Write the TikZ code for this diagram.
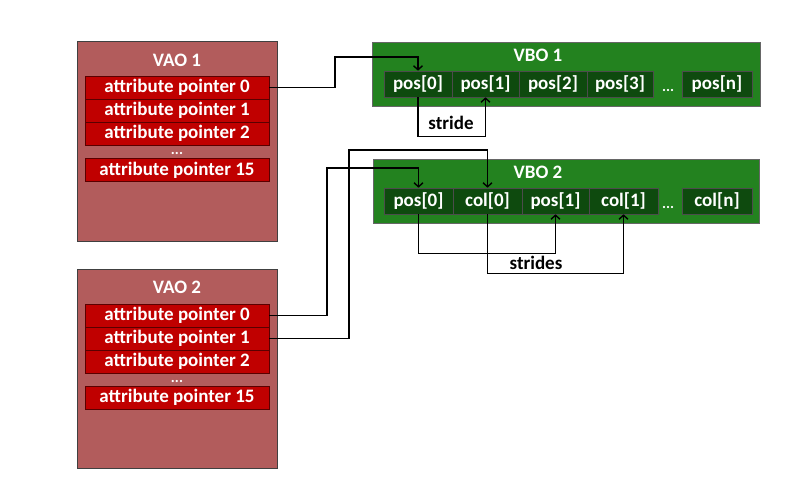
\documentclass[tikz,border=0pt]{standalone}
\usepackage{fontspec}
\setmainfont{Carlito}
\usetikzlibrary{arrows.meta}
\definecolor{vaofill}{HTML}{B25C5C}
\definecolor{attrred}{HTML}{C00000}
\definecolor{attrline}{HTML}{5A0000}
\definecolor{vbofill}{HTML}{23821F}
\definecolor{cellfill}{HTML}{0E4A0E}
\begin{document}
\begin{tikzpicture}[x=1pt,y=-1pt,
  txt/.style={font=\fontsize{19}{19}\selectfont\bfseries, inner sep=0pt},
  vaobox/.style={draw=black!75, fill=vaofill, line width=0.8pt, anchor=north west, minimum width=200pt, inner sep=0pt},
  attr/.style={txt, draw=attrline, fill=attrred, text=white, line width=0.8pt, minimum width=184pt, minimum height=23pt},
  vbobox/.style={draw=black!60, fill=vbofill, line width=0.8pt, anchor=north west, minimum height=64pt, inner sep=0pt},
  cell/.style={txt, draw=black!70, fill=cellfill, text=white, line width=0.6pt, minimum height=26pt},
  wtitle/.style={txt, text=white},
  dots/.style={font=\fontsize{15}{15}\selectfont\bfseries, text=white, inner sep=0pt},
  conn/.style={draw=black, line width=1.6pt, -{Straight Barb[length=4pt,width=9pt,line width=1.4pt]}}
]
\useasboundingbox (0,0) rectangle (805,500);
\fill[white] (0,0) rectangle (805,500);

% VAO 1
\node[vaobox, minimum height=200pt] (vao1) at (77,41) {};
\node[wtitle] (vao1t) at (177,60) {VAO 1};
\node[attr] (v1a0) at (177,87.5) {attribute pointer 0};
\node[attr] (v1a1) at (177,110.5) {attribute pointer 1};
\node[attr] (v1a2) at (177,133.5) {attribute pointer 2};
\node[dots] (v1d) at (177,153.5) {...};
\node[attr] (v1a15) at (177,170) {attribute pointer 15};

% VAO 2
\node[vaobox, minimum height=199pt] (vao2) at (77,269) {};
\node[wtitle] (vao2t) at (177,287) {VAO 2};
\node[attr] (v2a0) at (177,315.5) {attribute pointer 0};
\node[attr] (v2a1) at (177,338.5) {attribute pointer 1};
\node[attr] (v2a2) at (177,361.5) {attribute pointer 2};
\node[dots] (v2d) at (177,381) {...};
\node[attr] (v2a15) at (177,397.5) {attribute pointer 15};

% VBO 1
\node[vbobox, minimum width=388pt] (vbo1) at (372,42) {};
\node[wtitle] (vbo1t) at (538,55) {VBO 1};
\node[cell, minimum width=68pt] (p10) at (418,84) {pos[0]};
\node[cell, minimum width=67pt] (p11) at (485.5,84) {pos[1]};
\node[cell, minimum width=68pt] (p12) at (553,84) {pos[2]};
\node[cell, minimum width=66pt] (p13) at (620,84) {pos[3]};
\node[dots] (vbo1d) at (668,90) {...};
\node[cell, minimum width=70pt] (p1n) at (717,84) {pos[n]};

% VBO 2
\node[vbobox, minimum width=386pt] (vbo2) at (373,159) {};
\node[wtitle] (vbo2t) at (538,172) {VBO 2};
\node[cell, minimum width=69pt] (p20) at (418.5,201) {pos[0]};
\node[cell, minimum width=69pt] (c20) at (487.5,201) {col[0]};
\node[cell, minimum width=67pt] (p21) at (555.5,201) {pos[1]};
\node[cell, minimum width=69pt] (c21) at (623.5,201) {col[1]};
\node[dots] (vbo2d) at (668,207) {...};
\node[cell, minimum width=70pt] (c2n) at (717,201) {col[n]};

% bend coordinates
\coordinate (b1) at (335,57);
\coordinate (b2) at (327,168);
\coordinate (b3) at (349,150);

% VAO -> VBO connectors
\draw[conn] (v1a0.east) -| (b1) -| (p10.north);
\draw[conn] (v2a0.east) -| (b2) -| (p20.north);
\draw[conn] (v2a1.east) -| (b3) -| (c20.north);

% strides
\draw[conn] (p10.south) -- ++(0,39) -| (p11.south);
\node[txt] (stride) at (451,123) {stride};
\draw[conn] (p20.south) -- ++(0,39) -| (p21.south);
\draw[conn] (c20.south) -- ++(0,59) -| (c21.south);
\node[txt] (strides) at (536,263) {strides};
\end{tikzpicture}
\end{document}
